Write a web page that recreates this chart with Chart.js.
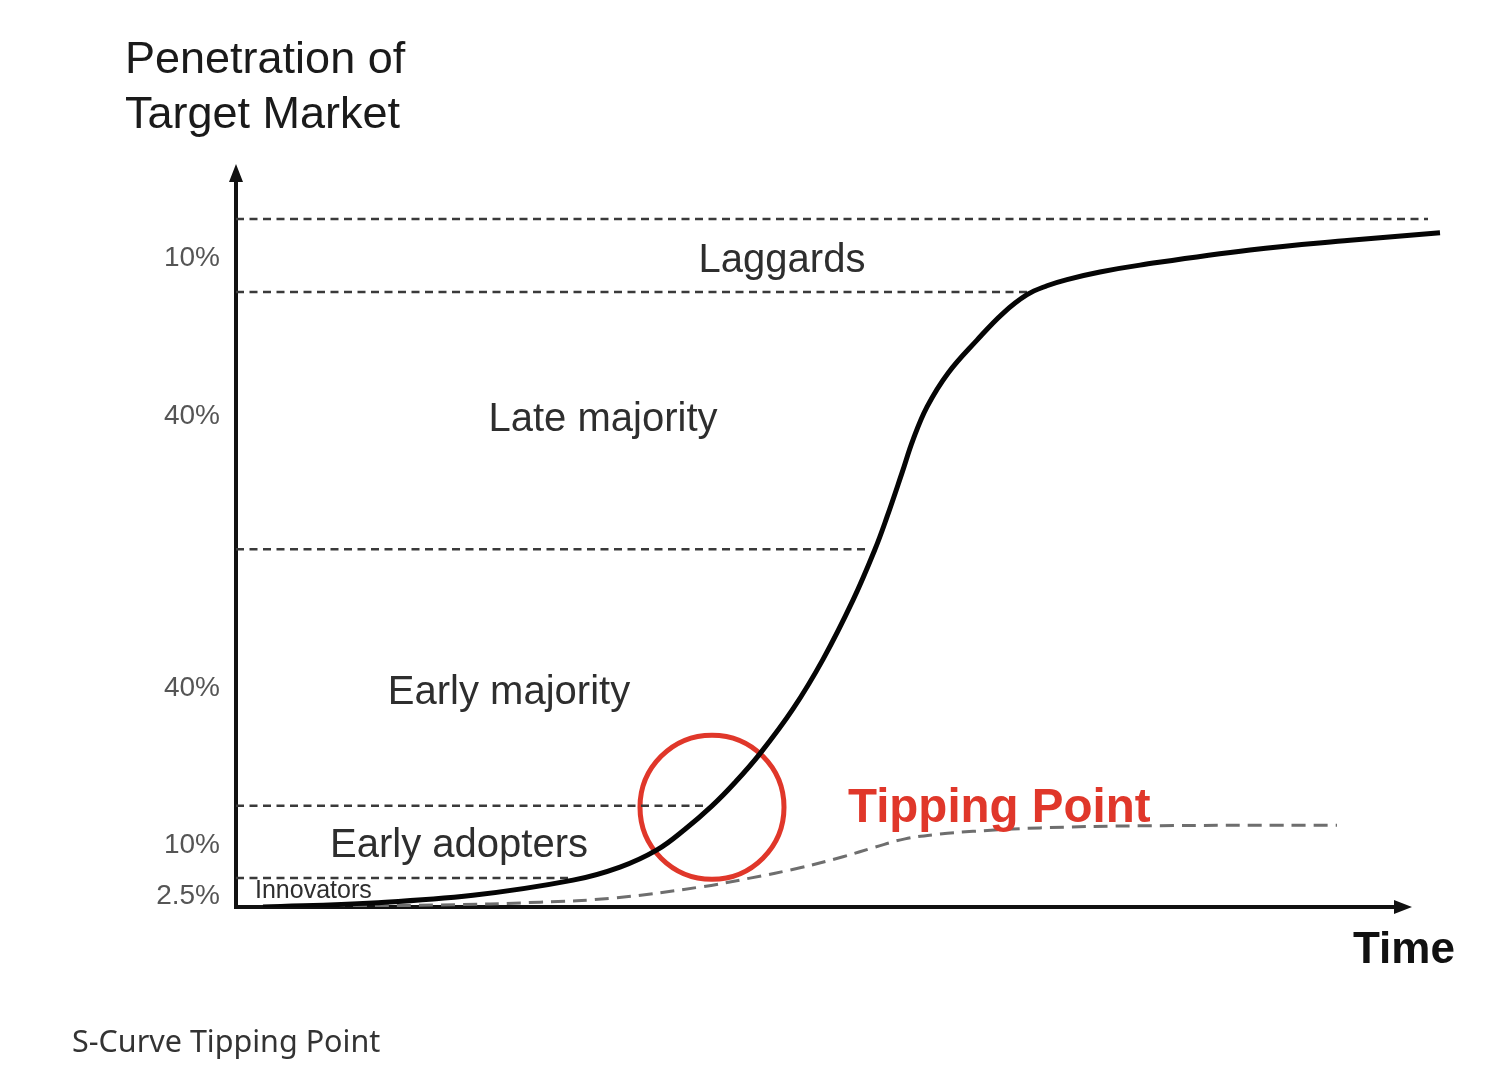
<!DOCTYPE html>
<html>
<head>
<meta charset="utf-8">
<script src="https://cdn.jsdelivr.net/npm/chart.js@4.4.1/dist/chart.umd.min.js"></script>
<style>
    html, body { margin: 0; padding: 0; background: #fff; }
    #wrap { position: relative; width: 1510px; height: 1066px; overflow: hidden; }
    #chart { position: absolute; left: 0; top: 0; }
    .ytitle { position: absolute; left: 125px; top: 30px; font: 45px "Liberation Sans", Arial, sans-serif; line-height: 55px; color: #1a1a1a; }
    .xtitle { position: absolute; left: 1353px; top: 927px; font: bold 44px "Liberation Sans", Arial, sans-serif; line-height: 42px; color: #111; }
    .caption { position: absolute; left: 72px; top: 1025px; font: 30.5px "Noto Sans", sans-serif; line-height: 30px; color: #333; }
</style>
</head>
<body>
<div id="wrap">
    <canvas id="chart" width="1510" height="1066"></canvas>
    <div class="ytitle">Penetration of<br>Target Market</div>
    <div class="xtitle">Time</div>
    <div class="caption">S-Curve Tipping Point</div>
</div>
<script>
// S-curve: cumulative penetration over time (x = time, y = share of market, axis units)
const sCurveX = [2.7, 13.7, 23.7, 33.7, 38.4, 42.1, 44.9, 47.6, 49.9, 52.4, 55.7, 58.7, 61.7, 63.9, 65.1, 66.6, 67.7, 69.1, 71.2, 74.1, 76.7, 79.1, 81.1, 83.1, 86.4, 90.4, 101.4, 111.4, 120.4];
const sCurveY = [0, 0.6, 1.7, 3.9, 5.8, 8.3, 11.3, 14.7, 18.1, 22.3, 28.8, 36.0, 44.6, 52.0, 56.7, 63.1, 67.9, 72.7, 77.6, 82.4, 86.3, 89.0, 90.3, 91.2, 92.3, 93.3, 95.5, 96.9, 98.0];

// dashed grey curve underneath
const slowX = [2.9, 20.4, 30.4, 37.7, 46.4, 51.4, 56.4, 60.7, 63.9, 66.9, 70.4, 73.7, 80.4, 90.4, 110.1];
const slowY = [0, 0.3, 0.7, 1.3, 2.9, 4.2, 5.7, 7.3, 8.7, 9.9, 10.6, 11.0, 11.5, 11.8, 11.9];

// segment boundaries (top of each group) and where each dashed line stops
const groupNames = ['Innovators', 'Early adopters', 'Early majority', 'Late majority', 'Laggards'];
const groupTops = [4.2, 14.7, 52.0, 89.4, 100];
const groupLineEnds = [33.7, 47.1, 63.4, 79.1, 119.2];

// y tick labels and where they sit
const tickLabels = ['2.5%', '10%', '40%', '40%', '10%'];
const tickPos = [1.6, 9.0, 31.8, 71.4, 94.3];

const tippingPoint = { x: 47.6, y: 14.5 };
const tippingLabel = 'Tipping Point';

// label placement for each group name (data coords, text centre)
const groupLabelX = [1.9, 22.3, 27.3, 36.7, 54.6];
const groupLabelY = [2.3, 8.9, 31.1, 70.8, 93.9];

const X_MAX = 121;
const Y_MAX = 108;
const X_ARROW = 117.6;

const toPts = (xs, ys) => xs.map((x, i) => ({ x, y: ys[i] }));

const boundarySets = groupTops.map((y, i) => ({
    data: [{ x: 0, y }, { x: groupLineEnds[i], y }],
    borderColor: '#3a3a3a',
    borderWidth: 2.5,
    borderDash: [8, 5.5],
    pointRadius: 0,
    tension: 0
}));

const axesPlugin = {
    id: 'axes',
    beforeDatasetsDraw(chart) {
        const { ctx } = chart;
        const xs = chart.scales.x, ys = chart.scales.y;
        const x0 = xs.getPixelForValue(0), y0 = ys.getPixelForValue(0);
        const yTop = ys.getPixelForValue(Y_MAX), xEnd = xs.getPixelForValue(X_ARROW);
        ctx.save();
        ctx.strokeStyle = '#111';
        ctx.fillStyle = '#111';
        ctx.lineWidth = 4;
        ctx.beginPath();
        ctx.moveTo(x0, y0 + 2);
        ctx.lineTo(x0, yTop + 14);
        ctx.moveTo(x0 - 2, y0);
        ctx.lineTo(xEnd - 14, y0);
        ctx.stroke();
        ctx.beginPath();
        ctx.moveTo(x0, yTop);
        ctx.lineTo(x0 - 7, yTop + 18);
        ctx.lineTo(x0 + 7, yTop + 18);
        ctx.closePath();
        ctx.moveTo(xEnd, y0);
        ctx.lineTo(xEnd - 18, y0 - 7);
        ctx.lineTo(xEnd - 18, y0 + 7);
        ctx.closePath();
        ctx.fill();
        ctx.restore();
    }
};

const labelsPlugin = {
    id: 'groupLabels',
    afterDatasetsDraw(chart) {
        const { ctx } = chart;
        const xs = chart.scales.x, ys = chart.scales.y;
        ctx.save();
        ctx.fillStyle = '#2e2e2e';
        ctx.textBaseline = 'middle';
        groupNames.forEach((name, i) => {
            const small = i === 0;
            ctx.font = small ? '25px "Liberation Sans", Arial, sans-serif' : '40px "Liberation Sans", Arial, sans-serif';
            ctx.textAlign = small ? 'left' : 'center';
            ctx.fillText(name, xs.getPixelForValue(groupLabelX[i]), ys.getPixelForValue(groupLabelY[i]));
        });
        ctx.font = 'bold 47.5px "Liberation Sans", Arial, sans-serif';
        ctx.fillStyle = '#e0372a';
        ctx.textAlign = 'left';
        ctx.textBaseline = 'alphabetic';
        ctx.fillText(tippingLabel, xs.getPixelForValue(61.2), ys.getPixelForValue(12.4));
        ctx.restore();
    }
};

new Chart(document.getElementById('chart'), {
    type: 'line',
    data: {
        datasets: [
            {
                data: toPts(sCurveX, sCurveY),
                borderColor: '#050505',
                borderWidth: 5,
                pointRadius: 0,
                tension: 0.4
            },
            {
                data: toPts(slowX, slowY),
                borderColor: '#6e6e6e',
                borderWidth: 3,
                borderDash: [14, 8],
                pointRadius: 0,
                tension: 0.4
            },
            ...boundarySets,
            {
                data: [tippingPoint],
                showLine: false,
                pointRadius: 72,
                pointBorderWidth: 5,
                pointBorderColor: '#e0372a',
                pointBackgroundColor: 'rgba(0,0,0,0)'
            }
        ]
    },
    options: {
        responsive: false,
        animation: false,
        events: [],
        layout: { autoPadding: false, padding: { left: 0, right: 64, top: 164, bottom: 159 } },
        plugins: { legend: { display: false }, tooltip: { enabled: false } },
        scales: {
            x: { type: 'linear', min: 0, max: X_MAX, display: false },
            y: {
                type: 'linear',
                min: 0,
                max: Y_MAX,
                grid: { display: false, drawTicks: false },
                border: { display: false },
                afterBuildTicks: (s) => { s.ticks = tickPos.map(v => ({ value: v })); },
                afterFit: (s) => { s.width = 236; },
                ticks: {
                    padding: 16,
                    color: '#555',
                    font: { family: '"Liberation Sans", Arial, sans-serif', size: 28 },
                    callback: (v, i) => tickLabels[i]
                }
            }
        }
    },
    plugins: [axesPlugin, labelsPlugin]
});
</script>
</body>
</html>
